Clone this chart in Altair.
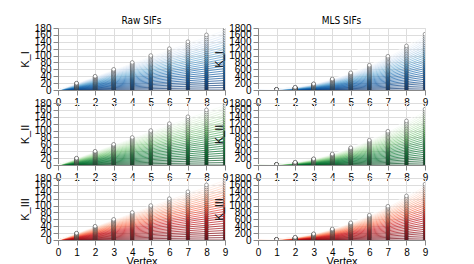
import altair as alt
import pandas as pd

# Vertex positions along the crack front
vertices = [0, 1, 2, 3, 4, 5, 6, 7, 8, 9]
# Upper envelope of the SIF values at each vertex
raw_top = [0, 20, 40, 60, 80, 100, 120, 140, 160, 180]
mls_top = [0, 20, 80, 180, 320, 500, 720, 980, 1280, 1620]
# Number of load levels (each level is a fraction of the envelope)
n_levels = 26

row_names = ["K_I", "K_II", "K_III"]
# Colour ramps, dark for low levels, fading to white for the highest
row_ramps = [
    ["#08306b", "#08519c", "#2171b5", "#6baed6", "#c6dbef", "#ffffff"],
    ["#00441b", "#006d2c", "#238b45", "#74c476", "#c7e9c0", "#ffffff"],
    ["#67000d", "#a50f15", "#cb181d", "#fb6a4a", "#fcbba1", "#ffffff"],
]


def ramp_color(ramp, t):
    seg = t * (len(ramp) - 1)
    i = min(int(seg), len(ramp) - 2)
    f = seg - i
    a = [int(ramp[i][k:k + 2], 16) for k in (1, 3, 5)]
    b = [int(ramp[i + 1][k:k + 2], 16) for k in (1, 3, 5)]
    c = [round(a[j] + (b[j] - a[j]) * f) for j in range(3)]
    return "#%02x%02x%02x" % tuple(c)


def build_table(top, ramp):
    rows = []
    for lv in range(n_levels + 1):
        frac = lv / n_levels
        col = ramp_color(ramp, frac)
        for v, t in zip(vertices, top):
            rows.append({"Vertex": v, "level": lv, "value": t * frac, "col": col})
    return pd.DataFrame(rows)


limits = {"Raw SIFs": (raw_top, 180, 20), "MLS SIFs": (mls_top, 1800, 200)}

FONT = "DejaVu Sans Condensed"
W, H = 167, 62


def panel(kind, r):
    top, ymax, ystep = limits[kind]
    df = build_table(top, row_ramps[r])
    last = r == 2
    xaxis = dict(values=vertices, format="d", grid=True, labelOverlap=False,
                 labelFlush=False)
    if last:
        xaxis.update(title="Vertex", titleFontWeight="normal", titleY=15,
                     titleBaseline="top")
    else:
        xaxis.update(title=None)
    x = alt.X("Vertex:Q", scale=alt.Scale(domain=[0, 9], nice=False),
              axis=alt.Axis(**xaxis))
    y = alt.Y("value:Q", scale=alt.Scale(domain=[0, ymax], nice=False),
              axis=alt.Axis(values=list(range(0, ymax + 1, ystep)),
                            title=row_names[r], format="d", grid=True,
                            labelOverlap=False, labelFlush=False,
                            titleFontWeight="normal"))
    lines = alt.Chart(df).mark_line(strokeWidth=0.7, clip=True).encode(
        x=x, y=y, color=alt.Color("col:N", scale=None), detail="level:N")
    pts = alt.Chart(df).transform_filter("datum.Vertex > 0").mark_point(
        filled=True, size=14, stroke="#444444", strokeWidth=0.5, opacity=1, clip=True
    ).encode(x=x, y=y, fill=alt.Fill("col:N", scale=None), order="level:Q")
    ch = alt.layer(lines, pts).properties(width=W, height=H)
    if r == 0:
        ch = ch.properties(title=alt.TitleParams(kind, fontSize=10, font=FONT,
                                                 fontWeight="normal", offset=1, dy=4))
    return ch


panels = [panel(kind, r) for r in range(3) for kind in ["Raw SIFs", "MLS SIFs"]]

chart = alt.concat(*panels, columns=2, spacing={"row": 13, "column": 33},
                   bounds="flush").properties(
    padding={"left": 18, "top": 15, "right": 5, "bottom": 5}
).configure_axis(
    labelFont=FONT, titleFont=FONT, labelFontSize=8, titleFontSize=8.5,
    labelColor="black", titleColor="black", titleFontWeight="normal",
    domain=False, ticks=False, labelPadding=1, titlePadding=1, labelOverlap=False,
    gridColor="#999999", gridDash=[1, 2], gridWidth=0.6,
).configure_axisY(labelBaseline="middle").configure_view(
    stroke="black", strokeWidth=1
).configure(background="white")

chart.save("out.html", embed_options={"renderer": "svg", "actions": False})
